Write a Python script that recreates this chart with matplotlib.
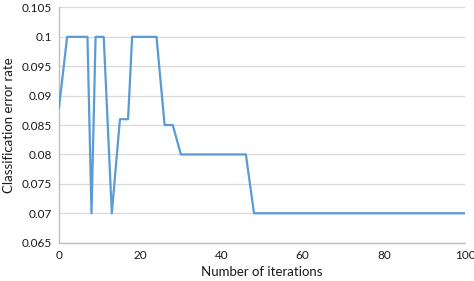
import matplotlib.pyplot as plt

# Data
iterations = [0, 2, 7, 8, 9, 11, 13, 15, 17, 18, 24, 26, 28, 30, 46, 48, 100]
error_rate = [0.088, 0.1, 0.1, 0.07, 0.1, 0.1, 0.07, 0.086, 0.086, 0.1, 0.1,
              0.085, 0.085, 0.08, 0.08, 0.07, 0.07]

y_ticks = [0.065, 0.07, 0.075, 0.08, 0.085, 0.09, 0.095, 0.1, 0.105]
y_labels = ["0.065", "0.07", "0.075", "0.08", "0.085", "0.09", "0.095", "0.1", "0.105"]
x_ticks = [0, 20, 40, 60, 80, 100]

plt.rcParams['font.family'] = ['Lato', 'DejaVu Sans']

fig = plt.figure(figsize=(4.74, 2.81), dpi=100)
ax = fig.add_axes([0.1245, 0.1365, 0.857, 0.837])

ax.plot(iterations, error_rate, color='#5B9BD5', linewidth=1.6, zorder=3)

ax.set_xlim(0, 100)
ax.set_ylim(0.065, 0.105)
ax.set_yticks(y_ticks)
ax.set_yticklabels(y_labels)
ax.set_xticks(x_ticks)

ax.grid(axis='y', color='#D9D9D9', linewidth=0.9)
ax.set_axisbelow(True)
for side in ['top', 'right']:
    ax.spines[side].set_visible(False)
for side in ['left', 'bottom']:
    ax.spines[side].set_color('#BFBFBF')
    ax.spines[side].set_linewidth(1.0)
ax.tick_params(length=0, labelsize=8.5, colors='#1a1a1a', pad=5)

ax.set_xlabel("Number of iterations", fontsize=9.5, color='#1a1a1a', labelpad=4)
ax.set_ylabel("Classification error rate", fontsize=9.5, color='#1a1a1a', labelpad=5)

fig.savefig("out.png", dpi=100)
